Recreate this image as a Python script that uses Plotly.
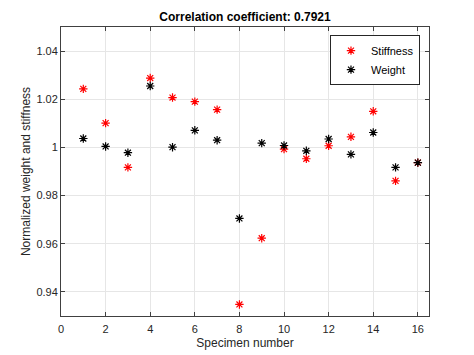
import plotly.graph_objects as go

specimen = list(range(1, 17))
stiffness = [1.0243, 1.0101, 0.9917, 1.0288, 1.0207, 1.0190, 1.0157, 0.9348,
             0.9623, 0.9993, 0.9953, 1.0007, 1.0044, 1.0150, 0.9861, 0.9937]
weight = [1.0037, 1.0004, 0.9978, 1.0255, 1.0001, 1.0071, 1.0030, 0.9705,
          1.0018, 1.0008, 0.9986, 1.0035, 0.9971, 1.0062, 0.9917, 0.9937]
x_ticks = [0, 2, 4, 6, 8, 10, 12, 14, 16]
y_ticks = [0.94, 0.96, 0.98, 1.00, 1.02, 1.04]
y_ticklabels = ["0.94", "0.96", "0.98", "1", "1.02", "1.04"]

FONT = "Liberation Sans, Arial, Helvetica, sans-serif"

# The page body has an 8px margin, so the figure is sized to fill the rest of the window.
W, H = 466, 347

fig = go.Figure()
fig.add_trace(go.Scatter(x=specimen, y=stiffness, mode="markers", name="Stiffness",
                         marker=dict(symbol="asterisk-open", size=7, color="#ff0000",
                                     line=dict(color="#ff0000", width=1.2))))
fig.add_trace(go.Scatter(x=specimen, y=weight, mode="markers", name="Weight",
                         marker=dict(symbol="asterisk-open", size=7, color="#000000",
                                     line=dict(color="#000000", width=1.2))))

axis_common = dict(showline=True, linecolor="#404040", linewidth=1, mirror="ticks",
                   ticks="inside", ticklen=4, tickcolor="#404040", automargin=False,
                   showgrid=True, gridcolor="#e6e6e6", gridwidth=1, zeroline=False,
                   tickfont=dict(family=FONT, size=11, color="#262626"))

fig.update_layout(
    width=W, height=H,
    margin=dict(l=53, r=45, t=19, b=39),
    paper_bgcolor="white", plot_bgcolor="white",
    font=dict(family=FONT, size=11, color="#262626"),
    title=dict(text="<b>Correlation coefficient: 0.7921</b>", x=0.5, xanchor="center",
               xref="paper", y=1 - 8.5 / H, yanchor="middle",
               font=dict(family=FONT, size=12, color="black")),
    xaxis=dict(range=[0, 16.5], tickvals=x_ticks, ticklabelstandoff=3,
               title=dict(text="Specimen number", standoff=4,
                          font=dict(family=FONT, size=12, color="#262626")),
               **axis_common),
    yaxis=dict(range=[0.93, 1.05], tickvals=y_ticks, ticktext=y_ticklabels,
               title=dict(text="Normalized weight and stiffness", standoff=3,
                          font=dict(family=FONT, size=12, color="#262626")),
               **axis_common),
    legend=dict(x=0.9755, y=0.972, xanchor="right", yanchor="top", bgcolor="white",
                bordercolor="#262626", borderwidth=1,
                font=dict(family=FONT, size=11, color="black"),
                itemwidth=30, tracegroupgap=0),
    showlegend=True,
)

fig.write_html("out.html")
